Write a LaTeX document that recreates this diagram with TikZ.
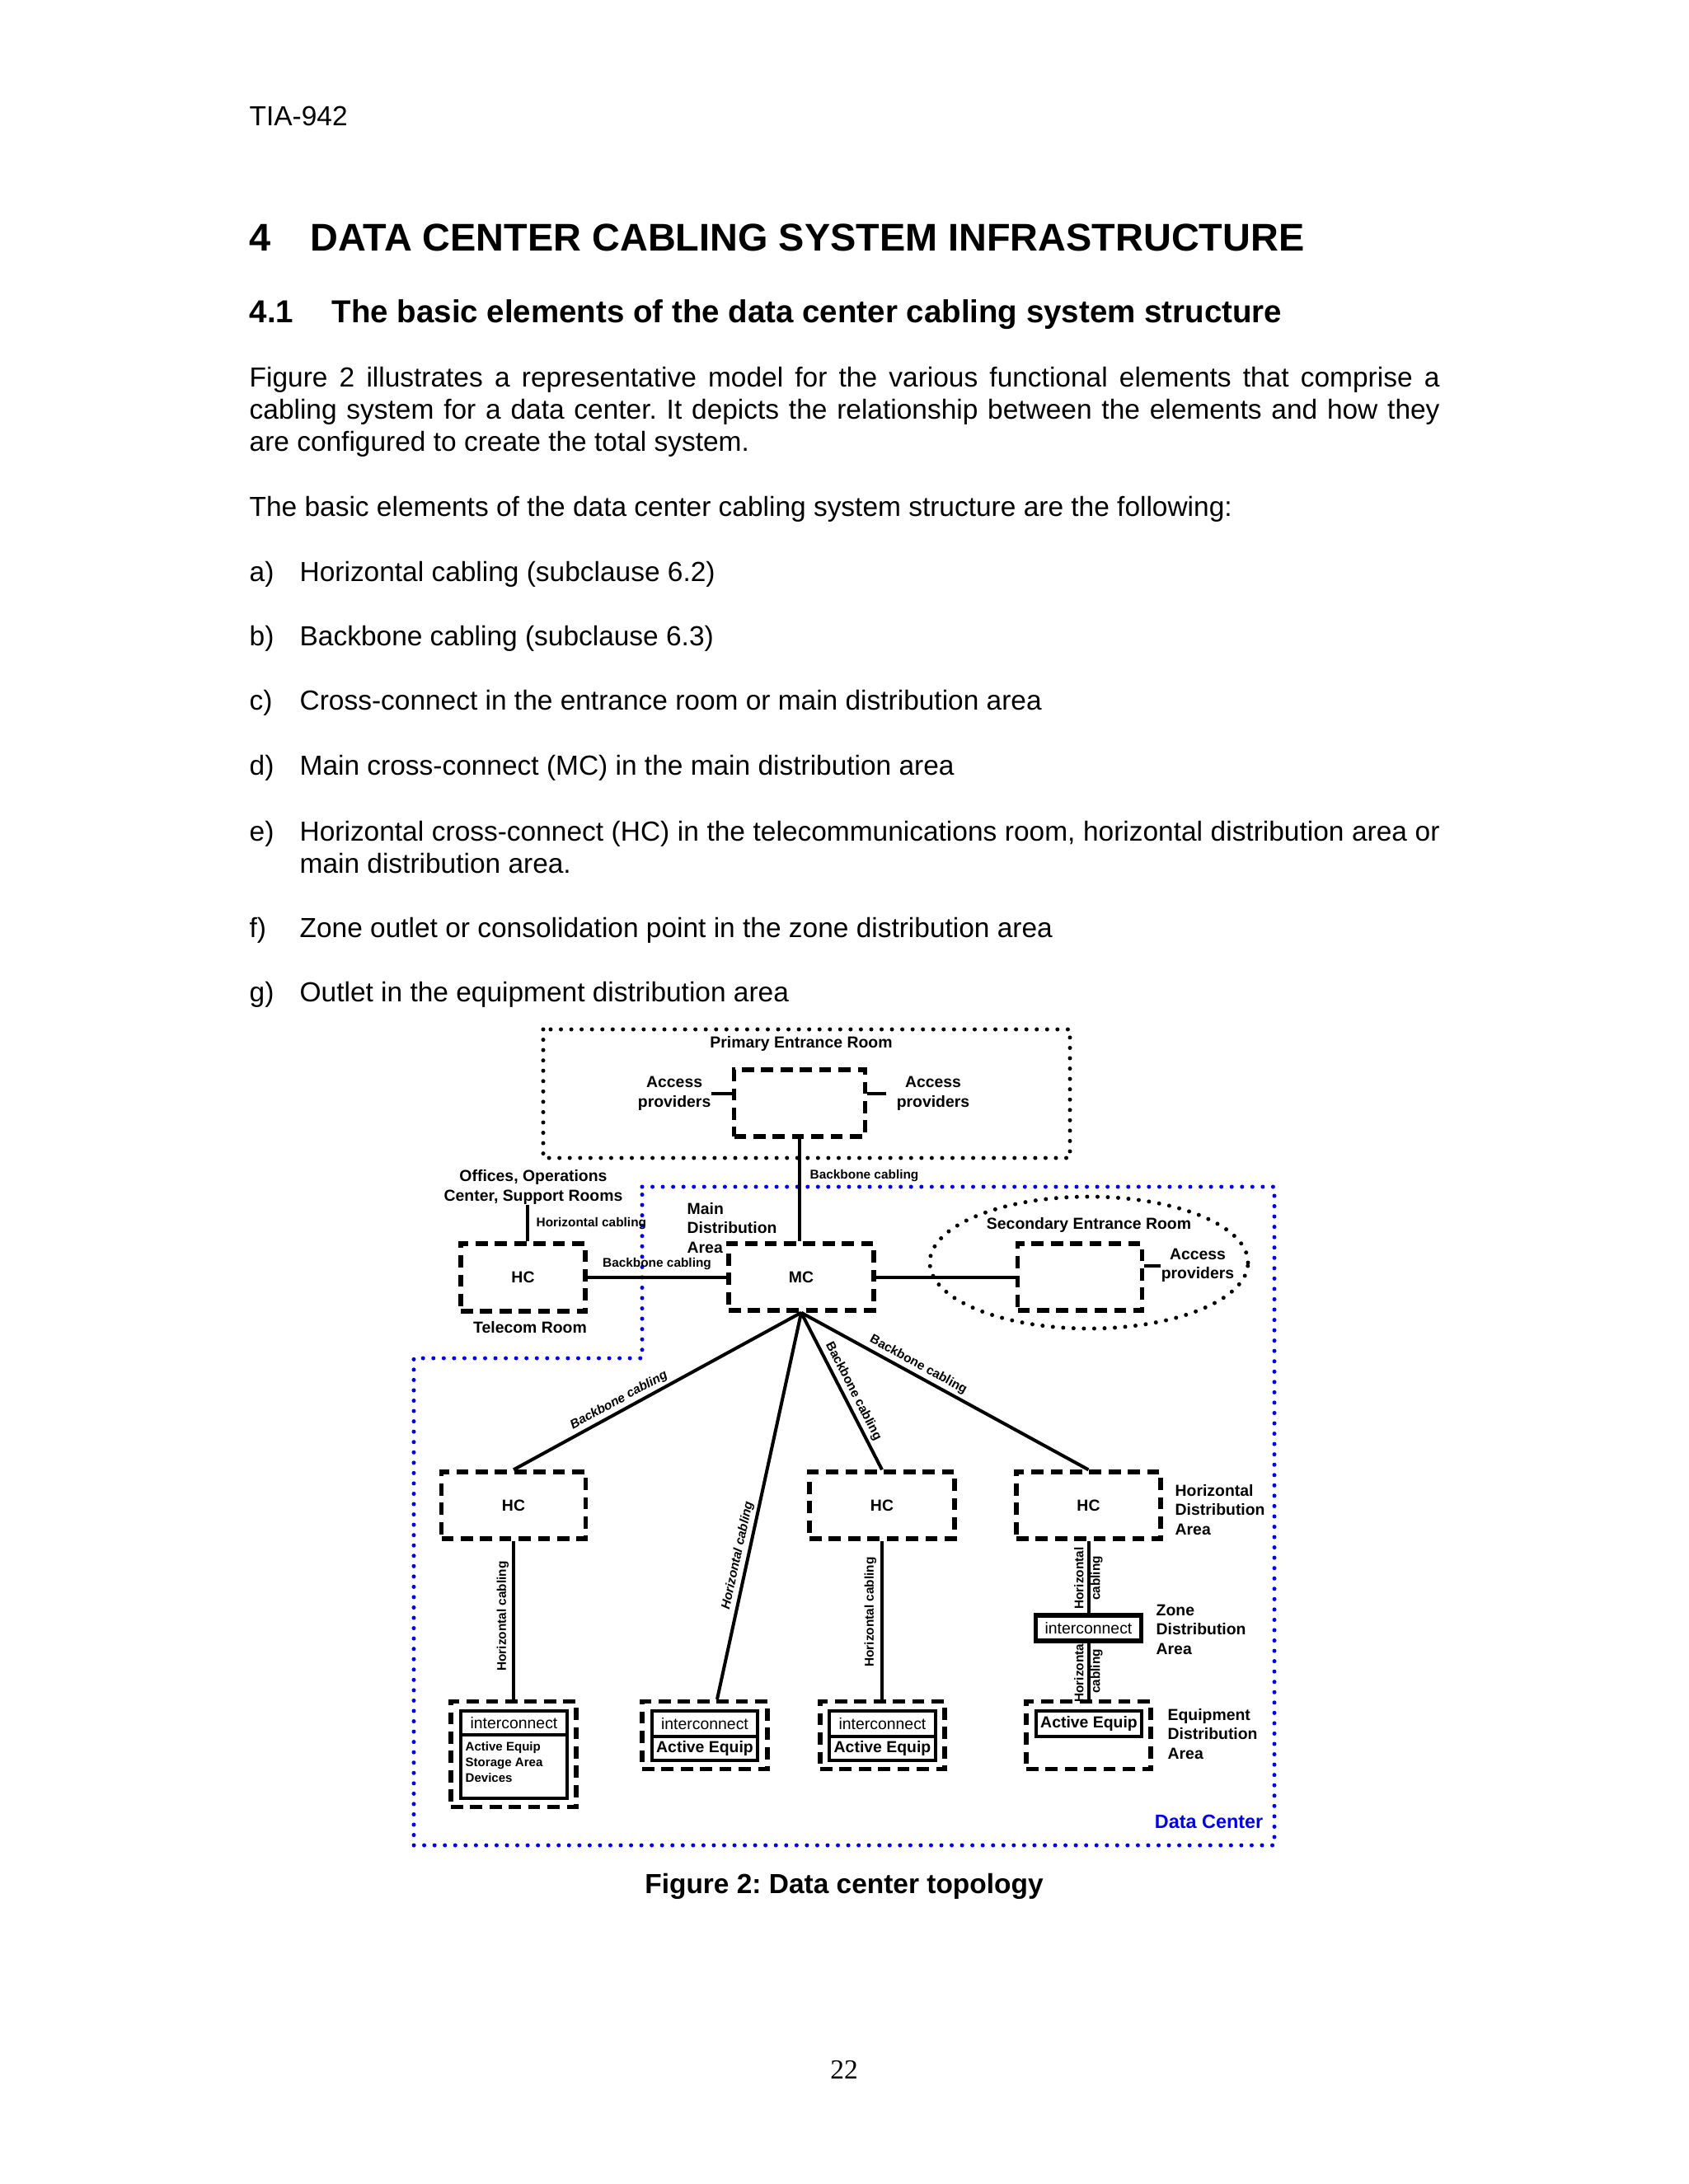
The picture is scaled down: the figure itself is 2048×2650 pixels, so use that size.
\documentclass[tikz,border=0pt]{standalone}
\usepackage{fontspec}
\setmainfont{Liberation Sans}
\newfontfamily\serifpn{Liberation Serif}
\usetikzlibrary{calc}
\newdimen\pxu \pxu=0.29886pt
\definecolor{dcblue}{RGB}{0,0,230}
\newcommand{\dlab}{\fontsize{5.8}{7}\selectfont\bfseries}
\newcommand{\slab}{\fontsize{4.6}{6}\selectfont\bfseries}
\newcommand{\ilab}{\fontsize{5.8}{7}\selectfont}
\newcommand{\tlab}{\fontsize{4.5}{5.6}\selectfont\bfseries}
\frenchspacing
\tikzset{
  dbox/.style={draw, line width=1.6pt, dash pattern=on 4.4pt off 2.6pt, inner sep=0pt, font=\dlab},
  ibox/.style={draw, line width=1.3pt, inner sep=0pt},
  cable/.style={line width=1.2pt},
  blkdots/.style={line width=1.5pt, dash pattern=on 0pt off 3.75pt, line cap=round},
  bluedots/.style={blkdots, draw=dcblue},
  lbl/.style={font=\dlab, inner sep=0pt},
  slbl/.style={font=\slab, inner sep=1pt},
  txt/.style={anchor=base west, inner sep=0pt, font=\fontsize{10}{11.5}\selectfont},
  hone/.style={txt, font=\fontsize{14}{16}\selectfont\bfseries},
  htwo/.style={txt, font=\fontsize{11.5}{14}\selectfont\bfseries}
}
\begin{document}
\begin{tikzpicture}[x=0.29886pt,y=-0.29886pt]
\fill[white] (0,0) rectangle (2048,2650);
\useasboundingbox (0,0) rectangle (2048,2650);

% ---------- page text ----------
\node[txt] (hdr) at (302,152) {TIA-942};
\node[hone] (h1n) at (302,304) {4};
\node[hone] (h1) at (376,304) {DATA CENTER CABLING SYSTEM INFRASTRUCTURE};
\node[htwo] (h2n) at (302,391) {4.1};
\node[htwo] (h2) at (402,391) {The basic elements of the data center cabling system structure};
\node[txt] (p1) at (302,469) {\makebox[1444\pxu][s]{Figure 2 illustrates a representative model for the various functional elements that comprise a}};
\node[txt] (p2) at (302,508) {\makebox[1444\pxu][s]{cabling system for a data center. It depicts the relationship between the elements and how they}};
\node[txt] (p3) at (302,547) {are configured to create the total system.};
\node[txt] (p4) at (302,626) {The basic elements of the data center cabling system structure are the following:};
\node[txt] (la) at (302,705) {a)};
\node[txt] (ta) at (363,705) {Horizontal cabling (subclause 6.2)};
\node[txt] (lb) at (302,783) {b)};
\node[txt] (tb) at (363,783) {Backbone cabling (subclause 6.3)};
\node[txt] (lc) at (302,861) {c)};
\node[txt] (tc) at (363,861) {Cross-connect in the entrance room or main distribution area};
\node[txt] (ld) at (302,940) {d)};
\node[txt] (td) at (363,940) {Main cross-connect (MC) in the main distribution area};
\node[txt] (le) at (302,1020) {e)};
\node[txt] (te) at (363,1020) {\makebox[1383\pxu][s]{Horizontal cross-connect (HC) in the telecommunications room, horizontal distribution area or}};
\node[txt] (te2) at (363,1059) {main distribution area.};
\node[txt] (lf) at (302,1137) {f)};
\node[txt] (tf) at (363,1137) {Zone outlet or consolidation point in the zone distribution area};
\node[txt] (lg) at (302,1215) {g)};
\node[txt] (tg) at (363,1215) {Outlet in the equipment distribution area};

% ---------- diagram: boundaries ----------
\draw[blkdots] (659,1249) rectangle (1298,1405);
\draw[bluedots] (779,1440) -- (1546,1440) -- (1546,2239) -- (502,2239) -- (502,1648) -- (779,1648) -- cycle;
\draw[blkdots] (1321,1532) ellipse [x radius=57.68pt, y radius=23.91pt];

% ---------- diagram: nodes ----------
\node[lbl] (pertitle) at (972,1266) {Primary Entrance Room};
\node[dbox, minimum width=47.52pt, minimum height=24.21pt] (pbox) at (970,1338.5) {};
\node[lbl, align=center, anchor=east] (ap1) at (863,1327) {Access\\providers};
\node[lbl, align=center, inner xsep=3.5pt] (ap2) at (1132,1327) {Access\\providers};

\node[lbl, align=center] (offices) at (647,1440.5) {Offices, Operations\\Center, Support Rooms};
\coordinate (offbot) at (640,1462);
\node[slbl, anchor=west, inner sep=0pt] (hcab0) at (650,1485) {Horizontal cabling};
\node[dbox, minimum width=45.13pt, minimum height=24.51pt] (hct) at (634.5,1550) {HC};
\node[lbl] (telecom) at (643,1611) {Telecom Room};

\node[lbl, anchor=west, align=left] (mda) at (833,1490) {Main\\Distribution\\Area};
\node[dbox, minimum width=52.60pt, minimum height=24.21pt] (mc) at (972,1549.5) {MC};
\node[slbl, anchor=west, inner sep=0pt] (bb0) at (982,1427) {Backbone cabling};

\node[lbl] (sertitle) at (1321,1486) {Secondary Entrance Room};
\node[dbox, minimum width=45.13pt, minimum height=24.21pt] (sbox) at (1310,1549.5) {};
\node[lbl, align=center] (ap3) at (1453,1535.5) {Access\\providers};

\node[dbox, minimum width=52.30pt, minimum height=24.21pt] (hc1) at (623,1826.5) {HC};
\node[dbox, minimum width=52.60pt, minimum height=24.21pt] (hc2) at (1070,1826.5) {HC};
\node[dbox, minimum width=52.30pt, minimum height=24.21pt] (hc3) at (1320.5,1826.5) {HC};
\node[lbl, anchor=west, align=left] (hda) at (1425,1832) {Horizontal\\Distribution\\Area};

\node[ibox, line width=1.7pt, minimum width=38.25pt, minimum height=9.26pt, font=\ilab] (zone) at (1320.5,1975.5) {interconnect};
\node[lbl, anchor=west, align=left] (zda) at (1402,1977) {Zone\\Distribution\\Area};

\node[dbox, minimum width=45.43pt, minimum height=38.25pt] (eda1) at (623,2128.5) {};
\node[ibox, minimum width=38.55pt, minimum height=8.67pt, font=\ilab] (ic1) at (623.5,2090.5) {interconnect};
\node[ibox, minimum width=38.55pt, minimum height=23.01pt] (ae1) at (623.5,2143.5) {};
\node[anchor=west, align=left, font=\tlab, inner sep=0pt] (ae1t) at (564,2138) {Active Equip\\Storage Area\\Devices};

\node[dbox, minimum width=45.43pt, minimum height=24.51pt] (eda2) at (855,2105.5) {};
\node[ibox, minimum width=38.25pt, minimum height=9.26pt, font=\ilab] (ic2) at (855,2091.5) {interconnect};
\node[ibox, minimum width=38.25pt, minimum height=8.67pt, font=\dlab] (ae2) at (855,2121.5) {Active Equip};

\node[dbox, minimum width=45.13pt, minimum height=24.51pt] (eda3) at (1070.5,2105.5) {};
\node[ibox, minimum width=38.55pt, minimum height=9.26pt, font=\ilab] (ic3) at (1070.5,2091.5) {interconnect};
\node[ibox, minimum width=38.55pt, minimum height=8.67pt, font=\dlab] (ae3) at (1070.5,2121.5) {Active Equip};

\node[dbox, minimum width=45.13pt, minimum height=24.51pt] (eda4) at (1320.5,2105.5) {};
\node[ibox, minimum width=38.25pt, minimum height=9.26pt, font=\dlab] (ae4) at (1321,2091.5) {Active Equip};
\node[lbl, anchor=west, align=left] (edl) at (1416,2104) {Equipment\\Distribution\\Area};

\node[lbl, anchor=east, text=dcblue, font=\fontsize{7}{8}\selectfont\bfseries] (dc) at (1533,2210) {Data Center};

% ---------- diagram: connectors ----------
\draw[cable] (ap1.east) -- (ap1.east -| pbox.west);
\draw[cable] (ap2.west) -- (ap2.west -| pbox.east);
\draw[cable] (pbox.south) -- (pbox.south |- mc.north);
\draw[cable] (offbot) -- (offbot |- hct.north);
\draw[cable] (hct.east) -- (hct.east -| mc.west)
  node[midway, above, slbl, yshift=1.3pt] {Backbone cabling};
\draw[cable] (mc.east) -- (mc.east -| sbox.west);
\draw[cable] (ap3.west -| sbox.east) -- (ap3.west);

\draw[cable] (mc.south) -- (hc1.north)
  node[pos=0.616, sloped, above, slbl, font=\slab\itshape] {Backbone cabling};
\draw[cable] (mc.south) -- ($(eda2.north)+(15,0)$)
  node[pos=0.634, sloped, above, slbl, font=\slab\itshape] {Horizontal cabling};
\draw[cable] (mc.south) -- (hc2.north)
  node[pos=0.53, sloped, above, slbl] {Backbone cabling};
\draw[cable] (mc.south) -- (hc3.north)
  node[pos=0.39, sloped, above, slbl] {Backbone cabling};

\draw[cable] (hc1.south) -- (eda1.north);
\draw[cable] (hc2.south) -- (hc2.south |- eda3.north);
\draw[cable] (hc3.south) -- (hc3.south |- zone.north);
\draw[cable] (zone.south) -- (zone.south |- eda4.north);

\node[slbl, rotate=90] (vl1) at (610,1961) {Horizontal cabling};
\node[slbl, rotate=90] (vl2) at (1056,1956) {Horizontal cabling};
\node[slbl, rotate=90, align=center] (vl3) at (1320.5,1915) {Horizontal\\cabling};
\node[slbl, rotate=90, align=center] (vl4) at (1320.5,2028) {Horizontal\\cabling};

% ---------- caption and page number ----------
\node[anchor=base, inner sep=0pt, font=\fontsize{10}{12}\selectfont\bfseries] (cap) at (1024,2297) {Figure 2: Data center topology};
\node[anchor=base, inner sep=0pt, font=\serifpn\fontsize{10}{12}\selectfont] (pg) at (1024,2522) {22};
\end{tikzpicture}
\end{document}
